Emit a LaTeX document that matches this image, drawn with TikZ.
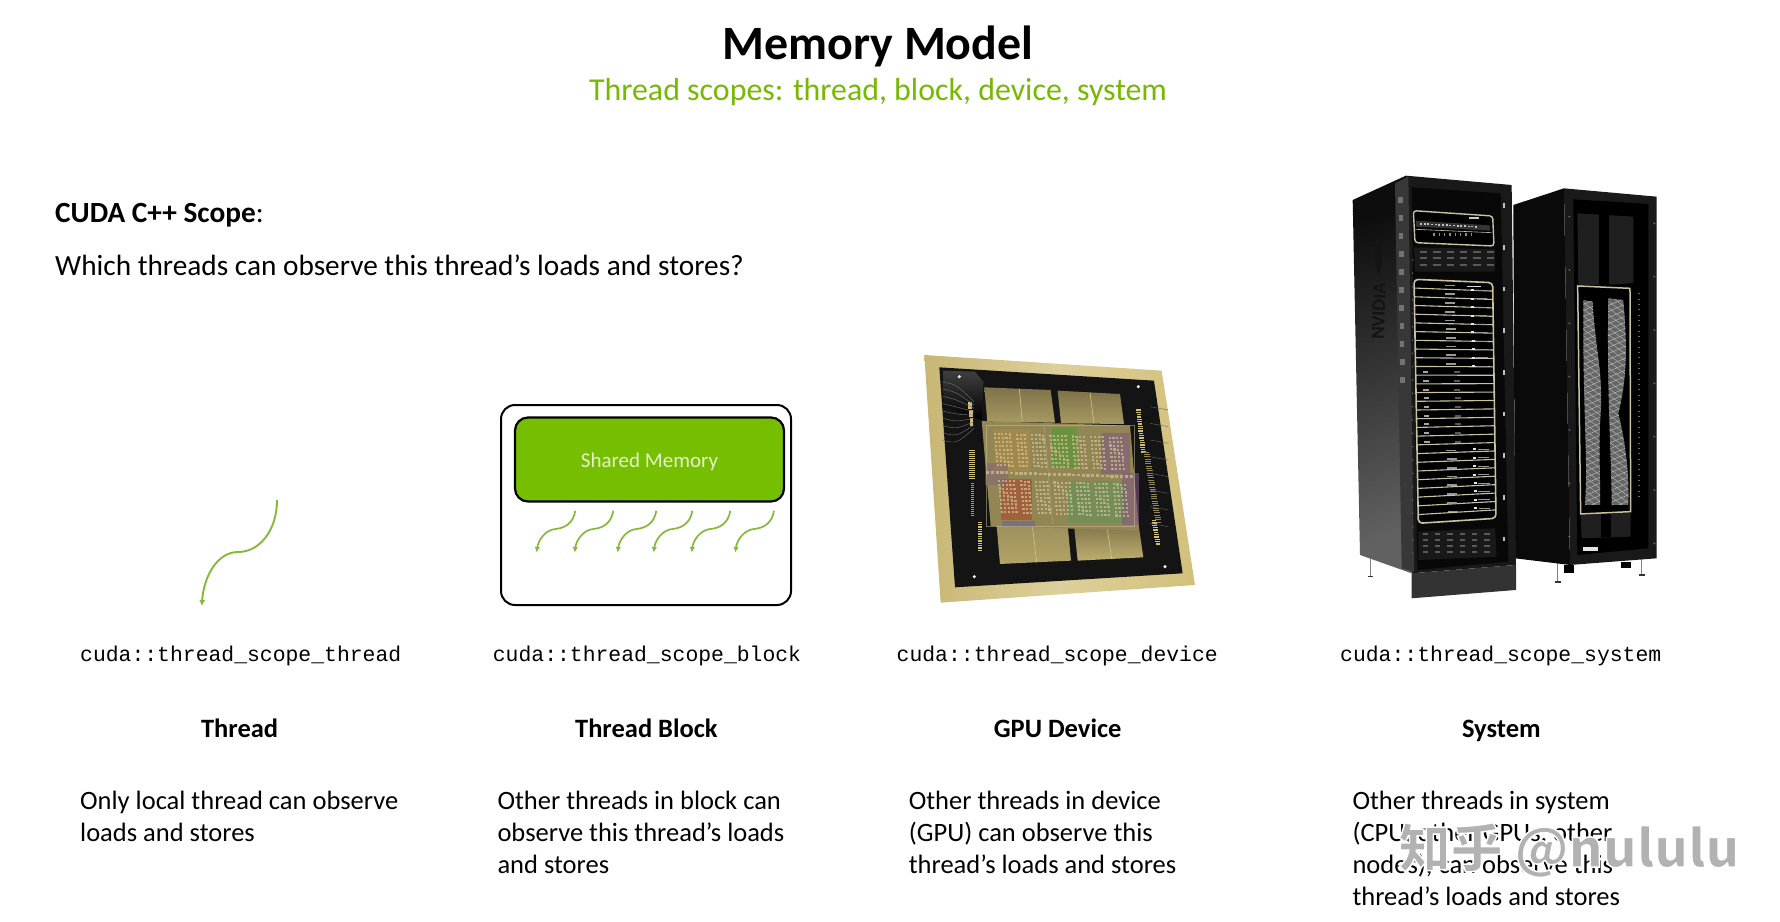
\documentclass[tikz,border=0pt]{standalone}
\usepackage{fontspec}
\setmainfont{Carlito}
\setmonofont{Liberation Mono}
\newfontfamily\wmfont{Noto Sans CJK SC}
\definecolor{nvgreen}{HTML}{76B900}
\definecolor{boxgreen}{HTML}{76BE00}
\definecolor{threadgreen}{HTML}{86B83C}
\definecolor{chipgold}{HTML}{D2C07A}
\definecolor{diecream}{HTML}{CFC396}
\definecolor{railgray}{HTML}{6A6A6A}
\definecolor{panelgold}{HTML}{C8C2A0}
\usetikzlibrary{arrows.meta}
\tikzset{
  headtext/.style={font=\fontsize{29.3}{34}\selectfont,inner sep=0pt,anchor=west},
  codetext/.style={font=\ttfamily\fontsize{21.4}{26}\selectfont,inner sep=0pt,anchor=west},
  nametext/.style={font=\bfseries\fontsize{26.5}{30}\selectfont,inner sep=0pt,anchor=base},
  desctext/.style={font=\fontsize{26.5}{32}\selectfont,inner sep=0pt,anchor=north west,align=left},
  threadline/.style={draw=threadgreen,line width=1.9pt,-{Latex[length=6pt,width=6pt]}},
  smallthread/.style={draw=threadgreen,line width=1.7pt,-{Latex[length=5.5pt,width=5.5pt]}},
  chipdot/.style={fill=#1,fill opacity=0.7},
  slat/.style={draw=panelgold,line width=1.1pt},
  ventdot/.style={fill=black!65!white},
}
\begin{document}
\begin{tikzpicture}[x=1pt,y=-1pt]
\useasboundingbox (0,0) rectangle (1780,921);
\fill[white] (0,0) rectangle (1780,921);

% heading
\node[font=\bfseries\fontsize{47.9}{52}\selectfont,inner sep=0pt] (title) at (878,46.5) {Memory Model};
\node[font=\fontsize{31.9}{36}\selectfont,text=nvgreen,inner sep=0pt] (subtitle) at (878,92) {Thread scopes: thread, block, device, system};
\node[headtext] (scopehead) at (55,215) {\textbf{CUDA C++ Scope}:};
\node[headtext] (scopeq) at (55,265) {Which threads can observe this thread’s loads and stores?};

% thread
\coordinate (threadtop) at (277,500);
\coordinate (threadmid) at (238,552);
\coordinate (threadend) at (201.7,606);
\path[threadline] (threadtop) .. controls (277,530) and (260,552) .. (threadmid) .. controls (218,552) and (204,575) .. (threadend);

% thread block
\node[draw,line width=2pt,rounded corners=14pt,minimum width=290pt,minimum height=200pt,inner sep=0pt] (blockbox) at (646,505) {};
\node[draw,fill=boxgreen,line width=2.2pt,rounded corners=13pt,minimum width=269pt,minimum height=84pt,inner sep=0pt] (shared) at (649.5,459.5) {};
\node[text=white!80!boxgreen,font=\fontsize{21}{25}\selectfont,inner sep=0pt] (sharedlabel) at (649.5,461.5) {Shared Memory};
\foreach \n/\x in {1/575.3,2/613.3,3/656.3,4/692.3,5/730.3,6/774} {
  \coordinate (ts\n) at (\x,510.7);
  \coordinate (te\n) at (\x-38.7,552.5);
  \path[smallthread] (ts\n) .. controls (\x-2,523) and (\x-10,528) .. (\x-20,529) .. controls (\x-30,530) and (\x-37,540) .. (te\n);
}

% gpu device, drawn in crop units
\begin{scope}[shift={(900,340)},x=0.3333pt,y=-0.3333pt]
\shade[left color=chipgold!95!black,right color=chipgold,middle color=chipgold!75!white] (73,45) -- (785,92) -- (885,735) -- (122,788) -- cycle;
\fill[black!92!white] (118,82) -- (762,122) -- (848,700) -- (165,742) -- cycle;
\shade[top color=black!75!white,bottom color=black] (130,92) -- (225,95) -- (250,125) -- (245,240) -- (132,200) -- cycle;
% contact strips
\foreach \a/\b in {205/185,208/210,210/235} \fill[chipgold] (\a,\b) rectangle ++(10,22);
\foreach \j in {0,...,14} \fill[chipgold] (208,330+6*\j) rectangle ++(18,4);
\foreach \j in {0,...,16} \fill[chipgold!80!black] (213,430+6*\j) rectangle ++(9,2);
\foreach \j in {0,...,12} \fill[chipgold] (233,545+7*\j) rectangle ++(12,4);
\foreach \j in {0,...,18} \fill[chipgold] (708+2.5*\j/3,208+7*\j) rectangle ++(14,4);
\foreach \j in {0,...,30} \fill[chipgold!70!black] (730+1.2*\j,335+7*\j) rectangle ++(18,2);
\foreach \j in {0,...,10} \fill[chipgold] (755+1.2*\j,540+7*\j) rectangle ++(14,4);
\foreach \j in {0,...,8} \draw[black!55!white,line width=0.4pt] (128,125+22*\j) .. controls (170,135+22*\j) .. (222,185+10*\j);
\foreach \j in {0,...,7} \draw[black!60!white,line width=0.4pt] (750,200+50*\j) -- (805,210+50*\j);
\foreach \a/\b in {178/110,715/140,795/680,223/710} \fill[white!90!chipgold] (\a,\b) circle (1.7pt);
% memory stacks
\shade[top color=chipgold!60!black,bottom color=chipgold!80!black] (253,142) -- (452,150) -- (465,248) -- (262,245) -- cycle;
\shade[top color=chipgold!60!black,bottom color=chipgold!80!black] (473,152) -- (660,162) -- (672,252) -- (483,250) -- cycle;
\shade[top color=chipgold!75!black,bottom color=chipgold!85!black] (290,558) -- (503,555) -- (513,662) -- (300,672) -- cycle;
\shade[top color=chipgold!60!black,bottom color=chipgold!90!black] (522,555) -- (715,548) -- (730,652) -- (533,662) -- cycle;
\draw[chipgold!90!white,line width=0.6pt] (358,147) -- (367,247);
\draw[chipgold!90!white,line width=0.6pt] (570,158) -- (582,251);
\draw[chipgold!90!white,line width=0.6pt] (397,557) -- (410,667);
\draw[chipgold!90!white,line width=0.6pt] (620,552) -- (635,657);
\end{scope}

% die, in unit square
\begin{scope}[shift={(981.7,421)},x={(148.3pt,-4.7pt)},y={(9pt,-105pt)}]
\fill[chipgold!70!black] (0,0) -- (1,0) -- (1,1) -- (0,1) -- cycle;
\fill[fill=orange!40!chipgold!85!black,fill opacity=0.35] (0.08,0.08) rectangle (0.3,0.46);
\fill[fill=green!45!chipgold!70!black,fill opacity=0.6] (0.47,0.05) rectangle (0.62,0.42);
\fill[fill=violet!30!gray,fill opacity=0.6] (0.8,0.08) rectangle (0.97,0.46);
\fill[fill=red!50!chipgold!75!black,fill opacity=0.6] (0.1,0.55) rectangle (0.28,0.93);
\fill[fill=green!30!teal!40!chipgold!80!black,fill opacity=0.65] (0.55,0.55) rectangle (0.92,0.93);
\fill[fill=violet!30!gray,fill opacity=0.6] (0.92,0.45) rectangle (1,0.95);
\fill[fill=violet!25!gray,fill opacity=0.45] (0,0.4) rectangle (0.14,0.6);
\fill[fill=blue!25!gray,fill opacity=0.5] (0.08,0.95) rectangle (0.3,1);
\foreach \i in {3,4,5,6,7,9,10,11,13,14,15,16,18,19,20,21,22,24,25,26,27,29,30,31,32,34,35,36,37}
  \foreach \j in {3,4,5,6,7,8,9,10,11,15,16,17,18,19,20,21,22,23}
    \fill[chipdot=diecream] (\i/40,\j/27) rectangle ++(0.014,0.019);
\foreach \i in {0,...,30} \fill[chipdot=diecream] (\i/31,0.475) rectangle ++(0.02,0.025);
\draw[diecream,opacity=0.5,line width=0.5pt] (0.03,0.04) rectangle (0.97,0.96);
\draw[diecream,opacity=0.5,line width=0.5pt] (0.42,0.04) -- (0.42,0.96);
\end{scope}

% system racks, drawn in crop units
\begin{scope}[shift={(1340,160)},x=0.3333pt,y=-0.3333pt]
% feet
\draw[gray,line width=1.2pt] (92,1190) -- (92,1250);
\draw[gray,line width=1.2pt] (653,1205) -- (653,1265);
\draw[gray,line width=1.2pt] (905,1190) -- (905,1245);
\fill[black!80!white] (84,1247) rectangle (100,1252);
\fill[black!80!white] (645,1262) rectangle (662,1268);
\fill[black!80!white] (897,1242) rectangle (914,1248);
\fill[black] (672,1215) rectangle (702,1238);
\fill[black] (843,1205) rectangle (872,1224);
% right cabinet
\fill[black!96!white] (520,135) -- (672,85) -- (690,1215) -- (525,1195) -- cycle;
\fill[black!90!white] (672,85) -- (950,110) -- (950,1195) -- (690,1215) -- cycle;
\fill[black] (700,118) -- (925,132) -- (925,1165) -- (712,1185) -- cycle;
\fill[black!88!white] (712,160) -- (880,170) -- (880,370) -- (715,378) -- cycle;
\fill[black] (778,162) rectangle (808,374);
\fill[black!88!white] (722,1065) -- (872,1058) -- (872,1130) -- (725,1135) -- cycle;
\fill[black] (782,1062) rectangle (814,1132);
\fill[white!90!black] (728,1162) rectangle (775,1172);
\foreach \j in {0,...,38} \fill[railgray] (893,400+16*\j) rectangle ++(6,3);
\foreach \j in {0,...,6} \fill[railgray] (943,190+160*\j) circle (1pt);
\foreach \j in {0,...,6} \fill[railgray] (688,170+160*\j) circle (1pt);
% mesh panels
\begin{scope}
\clip (730,420) -- (758,425) .. controls (765,560) and (790,640) .. (782,760) .. controls (775,860) and (782,960) .. (780,1035) -- (735,1035) .. controls (745,900) and (728,760) .. cycle
      (805,415) -- (850,420) .. controls (860,540) and (865,640) .. (835,760) .. controls (860,860) and (868,960) .. (865,1035) -- (815,1035) .. controls (815,900) and (800,700) .. cycle;
\fill[black!60!white] (720,410) rectangle (880,1040);
\foreach \j in {0,...,42} \draw[white!75!black,line width=0.35pt] (720,300+20*\j) -- (880,420+20*\j);
\foreach \j in {0,...,42} \draw[white!85!black,line width=0.3pt] (720,420+18*\j) -- (880,350+18*\j);
\end{scope}
\draw[panelgold,line width=1.5pt] (713,378) -- (870,385) -- (872,1055) -- (722,1062) -- cycle;
% left cabinet
\shade[left color=black!95!white,right color=black!62!white,shading angle=20] (38,120) -- (198,47) -- (215,1240) -- (60,1185) -- cycle;
\fill[black!90!white] (198,47) -- (515,75) -- (528,1215) -- (215,1240) -- cycle;
\fill[black!78!white] (165,70) -- (205,50) -- (222,1236) -- (185,1225) -- cycle;
\fill[black!97!white] (215,82) -- (482,100) -- (505,1205) -- (232,1230) -- cycle;
\fill[black!80!white] (215,1240) -- (528,1215) -- (528,1290) -- (215,1315) -- cycle;
\foreach \j in {0,...,10} \fill[black!55!white] (175+0.5*\j,110+27*\j*2) rectangle ++(14,20);
\foreach \j in {0,...,8} \fill[white!75!black] (490,130+125*\j) rectangle ++(6,14);
\foreach \j in {0,...,22} \fill[railgray] (218,300+40*\j) circle (0.8pt);
\fill[black!92!white] (114,231) .. controls (130,260) and (128,320) .. (116,345) .. controls (102,320) and (100,260) .. cycle;
\node[text=black!92!white,font=\bfseries\fontsize{19}{22}\selectfont,rotate=88,inner sep=0pt] (racklogo) at (116,453) {NVIDIA};
% top switch
\draw[panelgold,line width=1.4pt,fill=black,rounded corners=3pt] (220,152) -- (458,168) -- (462,258) -- (225,248) -- cycle;
\fill[black!80!white] (228,182) -- (450,196) -- (450,212) -- (228,200) -- cycle;
\foreach \i in {0,...,15} \fill[white!75!black] (240+11*\i,189+0.6*\i) rectangle ++(6,5);
\draw[panelgold,line width=0.6pt] (226,208) -- (455,218);
\foreach \i in {0,...,7} \fill[white!55!black] (280+16*\i,220) rectangle ++(4,8);
\fill[white!80!black] (388,172) rectangle ++(28,5);
% vents
\fill[black!90!white] (222,262) -- (465,268) -- (465,335) -- (225,335) -- cycle;
\foreach \i in {0,...,5} \foreach \j in {0,1,2} \fill[ventdot] (240+40*\i,272+20*\j) rectangle ++(22,6);
\fill[black!90!white] (235,1115) -- (465,1105) -- (470,1190) -- (235,1200) -- cycle;
\foreach \i in {0,...,5} \foreach \j in {0,...,3} \fill[ventdot] (248+37*\i,1118+18*\j) rectangle ++(16,6);
% big panel
\draw[panelgold,line width=1.6pt,fill=black,rounded corners=4pt] (222,358) -- (458,368) -- (468,1075) -- (235,1090) -- cycle;
\fill[white!85!black] (382,378) rectangle ++(42,4);
\foreach \i in {1,...,27} {
  \pgfmathsetmacro{\yl}{358+26.14*\i}
  \pgfmathsetmacro{\yr}{368+25.25*\i}
  \pgfmathsetmacro{\xl}{222+0.464*\i}
  \pgfmathsetmacro{\xr}{458+0.357*\i}
  \draw[slat] (\xl,\yl) -- (\xr,\yr);
  \ifnum\i<11
    \fill[white!60!black] (\xl+92,\yl-10) rectangle ++(30,5);
    \fill[white!90!black] (\xr-66,\yr-5) rectangle ++(9,6);
    \fill[white!60!black] (\xr-52,\yr-3) rectangle ++(34,3);
  \else\ifnum\i<20
    \fill[white!65!black] (\xl+22,\yl-12) rectangle ++(16,6);
    \fill[white!35!black] (\xl+115,\yl-12) rectangle ++(18,6);
  \else
    \fill[white!60!black] (\xl+88,\yl-12) rectangle ++(30,5);
    \fill[white!90!black] (\xr-66,\yr-8) rectangle ++(9,6);
    \fill[white!60!black] (\xr-52,\yr-6) rectangle ++(34,3);
  \fi\fi
}
\end{scope}

% labels
\node[codetext] (codethread) at (80,656) {cuda::thread\_scope\_thread};
\node[codetext] (codeblock) at (492.7,656) {cuda::thread\_scope\_block};
\node[codetext] (codedevice) at (896.5,656) {cuda::thread\_scope\_device};
\node[codetext] (codesystem) at (1340,656) {cuda::thread\_scope\_system};

\node[nametext] (namethread) at (239.6,737.5) {Thread};
\node[nametext] (nameblock) at (646.4,737.5) {Thread Block};
\node[nametext] (namedevice) at (1057.6,737.5) {GPU Device};
\node[nametext] (namesystem) at (1501.3,737.5) {System};

\node[desctext] (descthread) at (80,791) {Only local thread can observe\\loads and stores};
\node[desctext] (descblock) at (497.3,791) {Other threads in block can\\observe this thread’s loads\\and stores};
\node[desctext] (descdevice) at (908.6,791) {Other threads in device\\(GPU) can observe this\\thread’s loads and stores};
\node[desctext] (descsystem) at (1352.3,791) {Other threads in system\\(CPU, other GPUs, other\\nodes), can observe this\\thread’s loads and stores};

% watermark
\node[text=black!30!white,font=\wmfont\bfseries\fontsize{52}{58}\selectfont,inner sep=0pt] (watermark) at (1569,850) {\special{pdf:code q 2 Tr 1 1 1 RG 1.5 w}知乎 @nululu\special{pdf:code Q}};
\end{tikzpicture}
\end{document}
